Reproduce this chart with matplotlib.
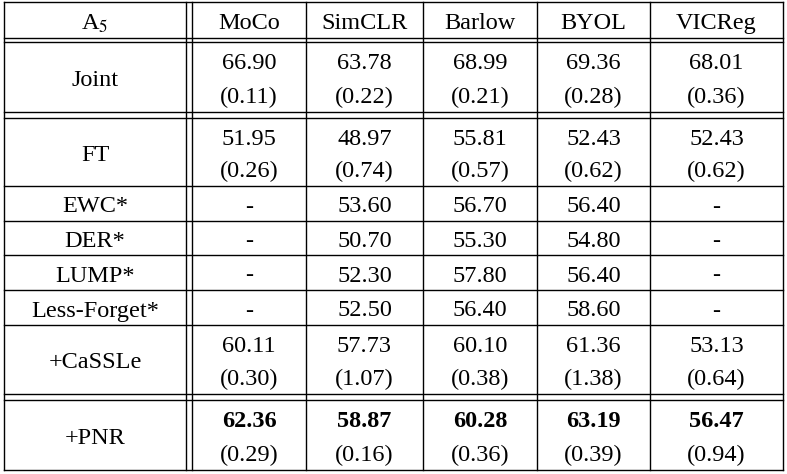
import matplotlib.pyplot as plt

plt.rcParams['font.family'] = ['Liberation Serif', 'DejaVu Serif']
plt.rcParams['mathtext.fontset'] = 'stix'

methods = ['MoCo', 'SimCLR', 'Barlow', 'BYOL', 'VICReg']
rows = ['Joint', 'FT', 'EWC*', 'DER*', 'LUMP*', 'Less-Forget*', '+CaSSLe', '+PNR']
means = [
    ['66.90', '63.78', '68.99', '69.36', '68.01'],
    ['51.95', '48.97', '55.81', '52.43', '52.43'],
    ['-', '53.60', '56.70', '56.40', '-'],
    ['-', '50.70', '55.30', '54.80', '-'],
    ['-', '52.30', '57.80', '56.40', '-'],
    ['-', '52.50', '56.40', '58.60', '-'],
    ['60.11', '57.73', '60.10', '61.36', '53.13'],
    ['62.36', '58.87', '60.28', '63.19', '56.47'],
]
stds = [
    ['(0.11)', '(0.22)', '(0.21)', '(0.28)', '(0.36)'],
    ['(0.26)', '(0.74)', '(0.57)', '(0.62)', '(0.62)'],
    None, None, None, None,
    ['(0.30)', '(1.07)', '(0.38)', '(1.38)', '(0.64)'],
    ['(0.29)', '(0.16)', '(0.36)', '(0.39)', '(0.94)'],
]

W, H = 787, 474
fig = plt.figure(figsize=(W / 100, H / 100), dpi=100)
ax = fig.add_axes([0, 0, 1, 1])
ax.set_xlim(0, W)
ax.set_ylim(H, 0)
ax.axis('off')

fs = 17.5
lw = 1.0
xl, xr = 4, 783
xs = [186, 192, 306, 423, 537, 650]  # first two = double line
col_edges = [192, 306, 423, 537, 650, 783]
row_bounds = [(42, 112), (118, 186), (186, 221), (221, 255), (255, 290),
              (290, 325), (325, 394), (400, 470)]
dbl_lines = [(38, 42), (112, 118), (394, 400)]

ax.plot([xl, xr], [2, 2], color='k', lw=lw)
for a, b in dbl_lines:
    ax.plot([xl, xr], [a, a], color='k', lw=lw)
    ax.plot([xl, xr], [b, b], color='k', lw=lw)
for t, b in row_bounds[1:6]:
    ax.plot([xl, xr], [b, b], color='k', lw=lw)
ax.plot([xl, xr], [470, 470], color='k', lw=lw)

for x in [xl, xr] + xs:
    ax.plot([x, x], [2, 470], color='k', lw=lw)

kw = dict(ha='center', va='center_baseline', fontsize=fs)
ax.text(95, 21, r'A$_5$', **kw)
for i, m in enumerate(methods):
    cx = (col_edges[i] + col_edges[i + 1]) / 2
    ax.text(cx, 21, m, **kw)

for r, name in enumerate(rows):
    t, b = row_bounds[r]
    cy = (t + b) / 2 + 1
    ax.text(95, cy, name, **kw)
    bold = name == '+PNR'
    for i in range(5):
        cx = (col_edges[i] + col_edges[i + 1]) / 2
        if stds[r] is None:
            ax.text(cx, cy, means[r][i], **kw)
        else:
            ax.text(cx, t + 19, means[r][i], fontweight='bold' if bold else 'normal', **kw)
            ax.text(cx, b - 17, stds[r][i], **kw)

fig.savefig('out.png', dpi=100)
